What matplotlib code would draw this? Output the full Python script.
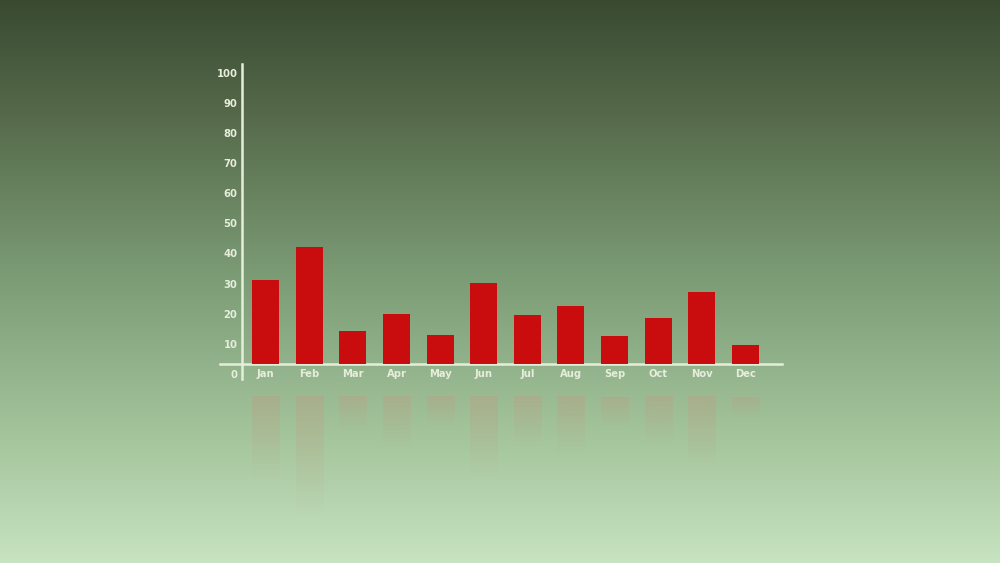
import matplotlib
matplotlib.use("Agg")
import matplotlib.pyplot as plt
import numpy as np
from matplotlib.colors import LinearSegmentedColormap, to_rgb

months = ["Jan", "Feb", "Mar", "Apr", "May", "Jun", "Jul", "Aug", "Sep", "Oct", "Nov", "Dec"]
values = [28, 39, 11, 16.7, 9.8, 27, 16.3, 19.4, 9.5, 15.3, 24, 6.5]
tick_values = [0, 10, 20, 30, 40, 50, 60, 70, 80, 90, 100]

BAR = "#c90d0f"
TEXT = "#e6eedb"
FONT = ["DejaVu Sans"]

fig = plt.figure(figsize=(10, 5.63), dpi=100)

# background gradient
bg_ax = fig.add_axes([0, 0, 1, 1])
bg_cmap = LinearSegmentedColormap.from_list(
    "bg", [(0.0, "#394a31"), (0.2, "#55694a"), (0.48, "#7a9a74"), (0.8, "#a8c8a0"), (1.0, "#c7e3c1")]
)
bg_ax.imshow(np.linspace(0, 1, 256).reshape(-1, 1), aspect="auto", cmap=bg_cmap, extent=[0, 1, 0, 1])
bg_ax.set_axis_off()

ax = fig.add_axes([0.22, 0.0, 0.562, 0.8934])
ax.patch.set_alpha(0)
x = np.arange(len(months))
ax.bar(x, values, width=0.62, color=BAR, zorder=3)

# fading reflection under the baseline
refl_rgb = to_rgb("#c49a80")
grad = np.zeros((100, 1, 4))
grad[..., :3] = refl_rgb
grad[:, 0, 3] = np.linspace(0.45, 0.03, 100) ** 1.3
gap = 10.8
for xi, v in zip(x, values):
    ax.imshow(grad, aspect="auto", extent=[xi - 0.31, xi + 0.31, -gap - v, -gap],
              interpolation="bilinear", zorder=2)

ax.set_xlim(-1.05, 11.84)
ax.set_ylim(-65.9, 101)

# axes lines
for side in ["top", "right"]:
    ax.spines[side].set_visible(False)
ax.spines["left"].set_position(("data", -0.553))
ax.spines["left"].set_bounds(-4.9, 99.6)
ax.spines["bottom"].set_position(("data", 0))
ax.spines["left"].set_color(TEXT)
ax.spines["bottom"].set_color(TEXT)
ax.spines["left"].set_linewidth(1.8)
ax.spines["bottom"].set_linewidth(1.8)

ax.set_yticks([v - 3.2 for v in tick_values])
ax.set_yticklabels([str(v) for v in tick_values])
ax.set_xticks(x)
ax.set_xticklabels(months)
ax.tick_params(axis="both", length=0, colors=TEXT)
ax.tick_params(axis="y", pad=3)
ax.tick_params(axis="x", pad=3)
for lab in ax.get_xticklabels() + ax.get_yticklabels():
    lab.set_family(FONT)
    lab.set_fontweight("bold")
    lab.set_fontstretch("condensed")
    lab.set_fontsize(8)

fig.savefig("out.png", dpi=100)
